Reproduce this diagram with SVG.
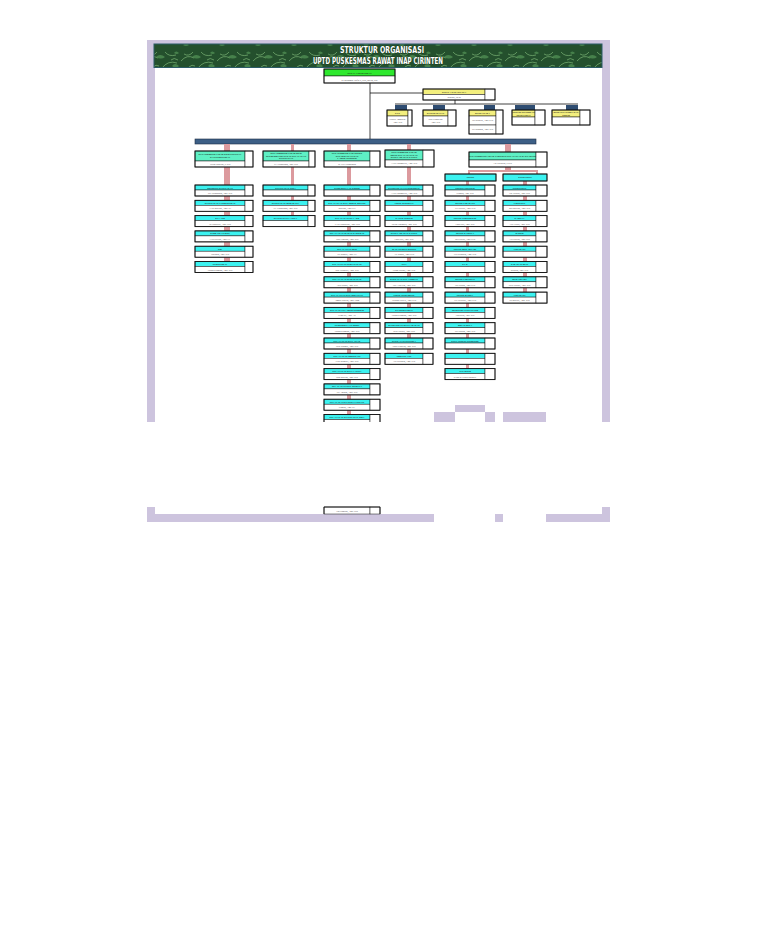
<svg xmlns="http://www.w3.org/2000/svg" xmlns:xlink="http://www.w3.org/1999/xlink" width="768" height="932" viewBox="0 0 768 932">
<style>
.lav{fill:#cdc4de}
.h{fill:#3cf2f0;stroke:#111;stroke-width:.5}
.m{fill:#5ef0c4;stroke:#111;stroke-width:.5}
.y{fill:#f3ef7e;stroke:#111;stroke-width:.5}
.g{fill:#2ee82e;stroke:#111;stroke-width:.5}
.w{fill:#fff;stroke:#111;stroke-width:.5}
.o{fill:none;stroke:#111;stroke-width:.9}
.cap{fill:#2f4d72}
.pk{fill:#dc9a9e}
.ln{stroke:#111;stroke-width:.8;fill:none}
.t{font-family:"Liberation Serif",serif;font-size:2.3px;font-weight:bold;fill:#1a1a1a;text-anchor:middle}
.n{font-family:"Liberation Serif",serif;font-size:2.2px;fill:#444;text-anchor:middle}
.ttl{font-family:"DejaVu Sans Condensed","Liberation Sans Narrow","Liberation Sans",sans-serif;font-weight:bold;fill:#fff;stroke:#0c2412;stroke-width:.5;paint-order:stroke;text-anchor:middle}
</style>
<defs>
<pattern id="leaf" width="36" height="24" patternUnits="userSpaceOnUse">
<rect width="36" height="24" fill="#24502d"/>
<path d="M1 13q6-7 13-3M4 6q5 3 9-2M18 20q6-8 15-5M21 4q4 5 11 3M9 19q3-3 6-1M27 12q3-3 7 0" stroke="#79b374" stroke-width="1" fill="none" opacity=".7"/>
<path d="M12 9q4-4 9 0q-4 3-9 0zM28 18q3-4 7 0q-3 3-7 0zM3 21q3-3 6 0q-3 2-6 0zM30 5q2-3 5 0q-2 2-5 0z" fill="#4c8a50" opacity=".85"/>
</pattern>
<g id="fA"><rect class="h" width="50" height="5"/><rect class="w" y="5" width="50" height="6"/><rect class="w" x="50" width="8" height="11"/><rect class="o" width="58" height="11"/></g>
<g id="fB"><rect class="h" width="45" height="5"/><rect class="w" y="5" width="45" height="6"/><rect class="w" x="45" width="7" height="11"/><rect class="o" width="52" height="11"/></g>
<g id="fC"><rect class="h" width="46" height="5"/><rect class="w" y="5" width="46" height="6"/><rect class="w" x="46" width="10" height="11"/><rect class="o" width="56" height="11"/></g>
<g id="fD"><rect class="h" width="38" height="5"/><rect class="w" y="5" width="38" height="6"/><rect class="w" x="38" width="10" height="11"/><rect class="o" width="48" height="11"/></g>
<g id="fE1"><rect class="h" width="40" height="5"/><rect class="w" y="5" width="40" height="6"/><rect class="w" x="40" width="10" height="11"/><rect class="o" width="50" height="11"/></g>
<g id="fE2"><rect class="h" width="33" height="5"/><rect class="w" y="5" width="33" height="6"/><rect class="w" x="33" width="11" height="11"/><rect class="o" width="44" height="11"/></g>
</defs>

<rect width="768" height="932" fill="#fff"/>
<!-- page frame -->
<rect class="lav" x="147" y="40" width="463" height="382"/>
<rect x="155" y="44" width="447" height="378" fill="#fff"/>
<rect class="lav" x="434" y="412" width="21" height="10"/>
<rect class="lav" x="455" y="405" width="30" height="7"/>
<rect class="lav" x="485" y="412" width="10" height="10"/>
<rect class="lav" x="503" y="412" width="43" height="10"/>

<!-- banner -->
<g id="banner">
<rect x="154" y="44" width="448" height="23.5" fill="url(#leaf)" stroke="#2b5b66" stroke-width="1"/>
<text class="ttl" x="382" y="53.3" font-size="9" textLength="84" lengthAdjust="spacingAndGlyphs">STRUKTUR ORGANISASI</text>
<text class="ttl" x="378" y="64.3" font-size="9.5" textLength="130" lengthAdjust="spacingAndGlyphs">UPTD PUSKESMAS RAWAT INAP CIRINTEN</text>
</g>

<!-- connectors -->
<g id="connectors">
<line class="ln" x1="370" y1="83" x2="370" y2="139"/>
<line class="ln" x1="370" y1="93" x2="423" y2="93"/>
<line class="ln" x1="455" y1="100" x2="455" y2="104"/>
<line class="ln" x1="395" y1="104" x2="578" y2="104"/>
<rect class="cap" x="395" y="105" width="12" height="5"/>
<rect class="cap" x="433" y="105" width="12" height="5"/>
<rect class="cap" x="484" y="105" width="11" height="5"/>
<rect class="cap" x="515" y="105" width="20" height="5"/>
<rect class="cap" x="566" y="105" width="12" height="5"/>
<rect x="195" y="139" width="341" height="5" fill="#3d5f86" stroke="#1c2c44" stroke-width=".6"/>
<rect class="pk" x="224" y="144" width="6" height="118"/>
<rect class="pk" x="291" y="144" width="3" height="72"/>
<rect class="pk" x="347" y="144" width="4" height="278"/>
<rect class="pk" x="407" y="144" width="4" height="211"/>
<rect class="pk" x="505" y="144" width="6" height="27"/>
<rect class="pk" x="468" y="170" width="70" height="2"/>
<rect class="pk" x="468" y="170" width="2" height="5"/>
<rect class="pk" x="536" y="170" width="2" height="5"/>
<rect class="pk" x="466" y="181" width="3" height="189"/>
<rect class="pk" x="523" y="181" width="4" height="113"/>
</g>

<!-- top nodes -->
<g id="kepala">
<rect class="g" x="324" y="69" width="71" height="7"/>
<rect class="w" x="324" y="76" width="71" height="7"/>
<rect class="o" x="324" y="69" width="71" height="14"/>
<text class="t" x="359.5" y="74" font-size="3.4" fill="#1e3a1e">KEPALA PUSKESMAS</text>
<text class="n" x="359.5" y="80.8" font-size="2.6" fill="#222">dr. Muhamad Taufik S, SOS, MKM, SPd</text>
</g>
<g id="ktu">
<rect class="y" x="423" y="89" width="62" height="5.5"/>
<rect class="w" x="423" y="94.5" width="62" height="5.5"/>
<rect class="w" x="485" y="89" width="10" height="11"/>
<rect class="o" x="423" y="89" width="72" height="11"/>
<text class="t" x="454" y="93">KEPALA TATA USAHA</text>
<text class="n" x="454" y="98.3">Rohendi, SKM</text>
</g>
<g id="staff1">
<rect class="y" x="387" y="110" width="21" height="6"/><rect class="w" x="387" y="116" width="21" height="10"/><rect class="w" x="408" y="110" width="4" height="16"/><rect class="o" x="387" y="110" width="25" height="16"/>
<text class="t" x="397.5" y="114">P.J.P</text>
<text class="n" x="397.5" y="120">Pradita Anggraeni</text><text class="n" x="397.5" y="123">Amd. Keb</text>
</g>
<g id="staff2">
<rect class="y" x="423" y="110" width="25" height="6"/><rect class="w" x="423" y="116" width="25" height="10"/><rect class="w" x="448" y="110" width="8" height="16"/><rect class="o" x="423" y="110" width="33" height="16"/>
<text class="t" x="435.5" y="114">KEPEGAWAIAN</text>
<text class="n" x="435.5" y="120">Rika Handayani</text><text class="n" x="435.5" y="123">Amd. Keb</text>
</g>
<g id="staff3">
<rect class="y" x="469" y="110" width="27" height="6"/><rect class="w" x="469" y="116" width="27" height="9"/><rect class="w" x="469" y="125" width="27" height="9"/><rect class="w" x="496" y="110" width="7" height="24"/><rect class="o" x="469" y="110" width="34" height="24"/>
<text class="t" x="482.5" y="114">BENDAHARA</text>
<text class="n" x="482.5" y="121">Eni Rohaeni, Amd. Keb</text>
<text class="n" x="482.5" y="130">Siti Rohmah, Amd. Keb</text>
</g>
<g id="staff4">
<rect class="y" x="512" y="110" width="23" height="7"/><rect class="w" x="512" y="117" width="23" height="8"/><rect class="w" x="535" y="110" width="10" height="15"/><rect class="o" x="512" y="110" width="33" height="15"/>
<text class="t" x="523.5" y="113">SISTEM INFORMASI</text><text class="t" x="523.5" y="115.8">PUSKESMAS</text>
</g>
<g id="staff5">
<rect class="y" x="552" y="110" width="28" height="7"/><rect class="w" x="552" y="117" width="28" height="8"/><rect class="w" x="580" y="110" width="10" height="15"/><rect class="o" x="552" y="110" width="38" height="15"/>
<text class="t" x="566" y="113">RUMAH TANGGA DAN</text><text class="t" x="566" y="115.8">UMUM</text>
</g>

<!-- division heads -->
<g id="divA">
<rect class="m" x="195" y="151" width="50" height="10"/><rect class="w" x="195" y="161" width="50" height="6"/><rect class="w" x="245" y="151" width="8" height="16"/><rect class="o" x="195" y="151" width="58" height="16"/>
<text class="t" x="220" y="155.2">PENANGGUNG JAWAB UKM ESENSIAL</text><text class="t" x="220" y="158">DAN PERKESMAS</text>
<text class="n" x="220" y="164.8">Yuyun Wahyuni, S.Kep</text>
</g>
<g id="divB">
<rect class="m" x="263" y="151" width="46" height="10"/><rect class="w" x="263" y="161" width="46" height="6"/><rect class="w" x="309" y="151" width="6" height="16"/><rect class="o" x="263" y="151" width="52" height="16"/>
<text class="t" x="286" y="154">PENANGGUNG JAWAB UKM</text><text class="t" x="286" y="156.6">PENGEMBANGAN DAN PELAYANAN</text><text class="t" x="286" y="159.2">KESEHATAN</text>
<text class="n" x="286" y="164.8">Hj. Nurhasanah, Amd. Keb</text>
</g>
<g id="divC">
<rect class="m" x="324" y="151" width="46" height="10"/><rect class="w" x="324" y="161" width="46" height="6"/><rect class="w" x="370" y="151" width="10" height="16"/><rect class="o" x="324" y="151" width="56" height="16"/>
<text class="t" x="347" y="154">PENANGGUNG JAWAB UKP</text><text class="t" x="347" y="156.6">KEFARMASIAN DAN</text><text class="t" x="347" y="159.2">LABORATORIUM</text>
<text class="n" x="347" y="164.8">dr. Fitri Nurhasanah</text>
</g>
<g id="divD">
<rect class="m" x="385" y="150" width="38" height="10"/><rect class="w" x="385" y="160" width="38" height="7"/><rect class="w" x="423" y="150" width="11" height="17"/><rect class="o" x="385" y="150" width="49" height="17"/>
<text class="t" x="404" y="153">PENANGGUNG JAWAB</text><text class="t" x="404" y="155.6">MUTU PELAYANAN DAN</text><text class="t" x="404" y="158.2">KESELAMATAN PASIEN</text>
<text class="n" x="404" y="164.3">Ai Siti Rahmawati, Amd. Kep</text>
</g>
<g id="divE">
<rect class="m" x="469" y="152" width="67" height="8"/><rect class="w" x="469" y="160" width="67" height="7"/><rect class="w" x="536" y="152" width="11" height="15"/><rect class="o" x="469" y="152" width="78" height="15"/>
<text class="t" x="502.5" y="156.8">PENANGGUNG JAWAB JARINGAN PELAYANAN &amp; JEJARING</text>
<text class="n" x="502.5" y="164.3">Ade Saepuloh, S.Kep</text>
</g>
<g id="subE1"><rect class="h" x="445" y="174" width="51" height="7"/><rect class="o" x="445" y="174" width="51" height="7"/><text class="t" x="470.5" y="178.3">PUSTU</text></g>
<g id="subE2"><rect class="h" x="503" y="174" width="44" height="7"/><rect class="o" x="503" y="174" width="44" height="7"/><text class="t" x="525" y="178.3">POSKESDES</text></g>

<!-- column A -->
<g id="a1" transform="translate(195,185)"><use href="#fA"/><text class="t" x="25" y="3.6">PROMOSI KESEHATAN</text><text class="n" x="25" y="9">Siti Nurhasanah, Amd. Keb</text></g>
<g id="a2" transform="translate(195,200.3)"><use href="#fA"/><text class="t" x="25" y="3.6">KESEHATAN LINGKUNGAN</text><text class="n" x="25" y="9">Ai Sri Mulyani, Amd. KL</text></g>
<g id="a3" transform="translate(195,215.6)"><use href="#fA"/><text class="t" x="25" y="3.6">KIA - KB</text><text class="n" x="25" y="9">Iis Nurhayati, Amd. Keb</text></g>
<g id="a4" transform="translate(195,230.9)"><use href="#fA"/><text class="t" x="25" y="3.6">PERBAIKAN GIZI</text><text class="n" x="25" y="9">Lilis Suryani, Amd. Gz</text></g>
<g id="a5" transform="translate(195,246.2)"><use href="#fA"/><text class="t" x="25" y="3.6">P2P</text><text class="n" x="25" y="9">Nurjanah, Amd. Keb</text></g>
<g id="a6" transform="translate(195,261.5)"><use href="#fA"/><text class="t" x="25" y="3.6">PERKESMAS</text><text class="n" x="25" y="9">Tatang Kusmana, Amd. Kep</text></g>

<!-- column B -->
<g id="b1" transform="translate(263,185)"><use href="#fB"/><text class="t" x="22.5" y="3.6">KESEHATAN JIWA</text></g>
<g id="b2" transform="translate(263,200.3)"><use href="#fB"/><text class="t" x="22.5" y="3.6">KESEHATAN GIGI MASY.</text><text class="n" x="22.5" y="9">Hj. Nurhasanah, Amd. Keb</text></g>
<g id="b3" transform="translate(263,215.6)"><use href="#fB"/><text class="t" x="22.5" y="3.6">KESEHATAN LANSIA</text></g>

<!-- column C -->
<g id="c1" transform="translate(324,185)"><use href="#fC"/><text class="t" x="23" y="3.6">PEMERIKSAAN UMUM</text></g>
<g id="c2" transform="translate(324,200.3)"><use href="#fC"/><text class="t" x="23" y="3.6">PELAYANAN KES. GIGI &amp; MULUT</text><text class="n" x="23" y="9">Maryani, Amd. KG</text></g>
<g id="c3" transform="translate(324,215.6)"><use href="#fC"/><text class="t" x="23" y="3.6">PELAYANAN KIA - KB</text><text class="n" x="23" y="9">Ay Sri Handayani, Amd. Keb</text></g>
<g id="c4" transform="translate(324,230.9)"><use href="#fC"/><text class="t" x="23" y="3.6">PELAYANAN GAWAT DARURAT</text><text class="n" x="23" y="9">Yuda Nugraha, Amd. Kep</text></g>
<g id="c5" transform="translate(324,246.2)"><use href="#fC"/><text class="t" x="23" y="3.6">PELAYANAN GIZI</text><text class="n" x="23" y="9">Sri Rahayu, Amd. Gz</text></g>
<g id="c6" transform="translate(324,261.5)"><use href="#fC"/><text class="t" x="23" y="3.6">PELAYANAN PERSALINAN</text><text class="n" x="23" y="9">Rini Nurhayati, Amd. Keb</text></g>
<g id="c7" transform="translate(324,276.8)"><use href="#fC"/><text class="t" x="23" y="3.6">PELAYANAN RAWAT INAP</text><text class="n" x="23" y="9">Asep Kurnia, Amd. Kep</text></g>
<g id="c8" transform="translate(324,292.1)"><use href="#fC"/><text class="t" x="23" y="3.6">PELAYANAN KEFARMASIAN</text><text class="n" x="23" y="9">Ahmad Sopyan, Amd. Farm</text></g>
<g id="c9" transform="translate(324,307.4)"><use href="#fC"/><text class="t" x="23" y="3.6">PELAYANAN LABORATORIUM</text><text class="n" x="23" y="9">Neng Siti, Amd. AK</text></g>
<g id="c10" transform="translate(324,322.7)"><use href="#fC"/><text class="t" x="23" y="3.6">PEMERIKSAAN MTBS</text><text class="n" x="23" y="9">Tatang Kusmana, Amd. Kep</text></g>
<g id="c11" transform="translate(324,338)"><use href="#fC"/><text class="t" x="23" y="3.6">PELAYANAN KES. ANAK</text><text class="n" x="23" y="9">Dede Rohmat, Amd. Kep</text></g>
<g id="c12" transform="translate(324,353.3)"><use href="#fC"/><text class="t" x="23" y="3.6">PELAYANAN IMUNISASI</text><text class="n" x="23" y="9">Neni Rosmiati, Amd. Keb</text></g>
<g id="c13" transform="translate(324,368.6)"><use href="#fC"/><text class="t" x="23" y="3.6">PELAYANAN KES. LANSIA</text><text class="n" x="23" y="9">Rina Marlina, Amd. Kep</text></g>
<g id="c14" transform="translate(324,383.9)"><use href="#fC"/><text class="t" x="23" y="3.6">PELAYANAN KES. REMAJA</text><text class="n" x="23" y="9">Siti Aminah, Amd. Keb</text></g>
<g id="c15" transform="translate(324,399.2)"><use href="#fC"/><text class="t" x="23" y="3.6">PELAYANAN KLINIK SANITASI</text><text class="n" x="23" y="9">Pengadi, Amd. KL</text></g>
<g id="c16" transform="translate(324,414.5)"><use href="#fC"/><text class="t" x="23" y="3.6">PELAYANAN KESEHATAN JIWA</text></g>

<!-- column D -->
<g id="d1" transform="translate(385,185)"><use href="#fD"/><text class="t" x="19" y="3.6">PENGENDALIAN DOKUMEN</text><text class="n" x="19" y="9">Ai Siti Rahmawati, Amd. Kep</text></g>
<g id="d2" transform="translate(385,200.3)"><use href="#fD"/><text class="t" x="19" y="3.6">AUDIT INTERNAL</text></g>
<g id="d3" transform="translate(385,215.6)"><use href="#fD"/><text class="t" x="19" y="3.6">KAJI BANDING</text><text class="n" x="19" y="9">Yuyun Yuningsih, Amd. Keb</text></g>
<g id="d4" transform="translate(385,230.9)"><use href="#fD"/><text class="t" x="19" y="3.6">KESELAMATAN PASIEN</text><text class="n" x="19" y="9">Enok Sari, Amd. Keb</text></g>
<g id="d5" transform="translate(385,246.2)"><use href="#fD"/><text class="t" x="19" y="3.6">MANAJEMEN RISIKO</text><text class="n" x="19" y="9">Ary Rohidi, Amd. Kep</text></g>
<g id="d6" transform="translate(385,261.5)"><use href="#fD"/><text class="t" x="19" y="3.6">P P I</text><text class="n" x="19" y="9">Ujang Sutisna, Amd. Kep</text></g>
<g id="d7" transform="translate(385,276.8)"><use href="#fD"/><text class="t" x="19" y="3.6">KEPUASAN PELANGGAN</text><text class="n" x="19" y="9">Tuti Alawiyah, Amd. Keb</text></g>
<g id="d8" transform="translate(385,292.1)"><use href="#fD"/><text class="t" x="19" y="3.6">INDIKATOR MUTU</text><text class="n" x="19" y="9">Neneng Nurlela, Amd. Keb</text></g>
<g id="d9" transform="translate(385,307.4)"><use href="#fD"/><text class="t" x="19" y="3.6">K3 PUSKESMAS</text><text class="n" x="19" y="9">Tatang Kusmana, Amd. Kep</text></g>
<g id="d10" transform="translate(385,322.7)"><use href="#fD"/><text class="t" x="19" y="3.6">PENGADUAN MASYARAKAT</text><text class="n" x="19" y="9">Dewi Sartika, Amd. Keb</text></g>
<g id="d11" transform="translate(385,338)"><use href="#fD"/><text class="t" x="19" y="3.6">PENILAIAN KINERJA</text><text class="n" x="19" y="9">Nurul Hidayah, Amd. Kep</text></g>
<g id="d12" transform="translate(385,353.3)"><use href="#fD"/><text class="t" x="19" y="3.6">SURVEILANS</text><text class="n" x="19" y="9">Aep Saepudin, Amd. Kep</text></g>

<!-- column E1 -->
<g id="e1" transform="translate(445,185)"><use href="#fE1"/><text class="t" x="20" y="3.6">PUSTU CIPINING</text><text class="n" x="20" y="9">Nengsih, Amd. Keb</text></g>
<g id="e2" transform="translate(445,200.3)"><use href="#fE1"/><text class="t" x="20" y="3.6">PUSTU CIBARANI</text><text class="n" x="20" y="9">Yeti Suryati, Amd. Keb</text></g>
<g id="e3" transform="translate(445,215.6)"><use href="#fE1"/><text class="t" x="20" y="3.6">PUSTU CIBEUREUM</text><text class="n" x="20" y="9">Enok Sari, Amd. Keb</text></g>
<g id="e4" transform="translate(445,230.9)"><use href="#fE1"/><text class="t" x="20" y="3.6">PUSTU KAROYA</text><text class="n" x="20" y="9">Ika Kartika, Amd. Keb</text></g>
<g id="e5" transform="translate(445,246.2)"><use href="#fE1"/><text class="t" x="20" y="3.6">PUSTU MEKARSARI</text><text class="n" x="20" y="9">Nia Kurniasih, Amd. Keb</text></g>
<g id="e6" transform="translate(445,261.5)"><use href="#fE1"/><text class="t" x="20" y="3.6">P L K</text></g>
<g id="e7" transform="translate(445,276.8)"><use href="#fE1"/><text class="t" x="20" y="3.6">PUSTU CIRINTEN</text><text class="n" x="20" y="9">Upi Sopiah, Amd. Keb</text></g>
<g id="e8" transform="translate(445,292.1)"><use href="#fE1"/><text class="t" x="20" y="3.6">PUSTU BADUY</text><text class="n" x="20" y="9">Teti Herawati, Amd. Keb</text></g>
<g id="e9" transform="translate(445,307.4)"><use href="#fE1"/><text class="t" x="20" y="3.6">PUSKESMAS KELILING</text><text class="n" x="20" y="9">Ubaidilah, Amd. Kep</text></g>
<g id="e10" transform="translate(445,322.7)"><use href="#fE1"/><text class="t" x="20" y="3.6">BIDAN DESA</text><text class="n" x="20" y="9">Siti Saodah, Amd. Keb</text></g>
<g id="e11" transform="translate(445,338)"><use href="#fE1"/><text class="t" x="20" y="3.6">POSYANDU &amp; POSBINDU</text></g>
<g id="e12" transform="translate(445,353.3)"><use href="#fE1"/></g>
<g id="e13" transform="translate(445,368.6)"><use href="#fE1"/><text class="t" x="20" y="3.6">JEJARING</text><text class="n" x="20" y="9">Klinik &amp; Praktik Mandiri</text></g>

<!-- column E2 -->
<g id="f1" transform="translate(503,185)"><use href="#fE2"/><text class="t" x="16.5" y="3.6">POSKESDES</text><text class="n" x="16.5" y="9">Eni Nuraeni, Amd. Keb</text></g>
<g id="f2" transform="translate(503,200.3)"><use href="#fE2"/><text class="t" x="16.5" y="3.6">CIRINTEN</text><text class="n" x="16.5" y="9">Mia Marlina, Amd. Keb</text></g>
<g id="f3" transform="translate(503,215.6)"><use href="#fE2"/><text class="t" x="16.5" y="3.6">KAROYA</text><text class="n" x="16.5" y="9">Ayu Lestari, Amd. Keb</text></g>
<g id="f4" transform="translate(503,230.9)"><use href="#fE2"/><text class="t" x="16.5" y="3.6">BADUR</text><text class="n" x="16.5" y="9">Ayu Kartika, Amd. Keb</text></g>
<g id="f5" transform="translate(503,246.2)"><use href="#fE2"/><text class="t" x="16.5" y="3.6">CIBARANI</text></g>
<g id="f6" transform="translate(503,261.5)"><use href="#fE2"/><text class="t" x="16.5" y="3.6">PARAKAN BESI</text><text class="n" x="16.5" y="9">Rosidah, Amd. Keb</text></g>
<g id="f7" transform="translate(503,276.8)"><use href="#fE2"/><text class="t" x="16.5" y="3.6">MEKARSARI</text><text class="n" x="16.5" y="9">Dewi Sartika, Amd. Keb</text></g>
<g id="f8" transform="translate(503,292.1)"><use href="#fE2"/><text class="t" x="16.5" y="3.6">CIBARANI</text><text class="n" x="16.5" y="9">Sri Mulyati, Amd. Keb</text></g>

<!-- page break -->
<rect x="140" y="422" width="480" height="85" fill="#fff"/>
<rect class="lav" x="147" y="507" width="8" height="15"/>
<rect class="lav" x="147" y="514" width="287" height="8"/>
<rect class="lav" x="495" y="514" width="8" height="8"/>
<rect class="lav" x="546" y="514" width="64" height="8"/>
<rect class="lav" x="602" y="507" width="8" height="15"/>
<g id="c17">
<rect class="w" x="324" y="507" width="46" height="7"/><rect class="w" x="370" y="507" width="10" height="7"/>
<path class="o" d="M324 514V507H380V514"/>
<text class="n" x="347" y="511.5">Tini Sumarni, Amd. Keb</text>
</g>
</svg>
